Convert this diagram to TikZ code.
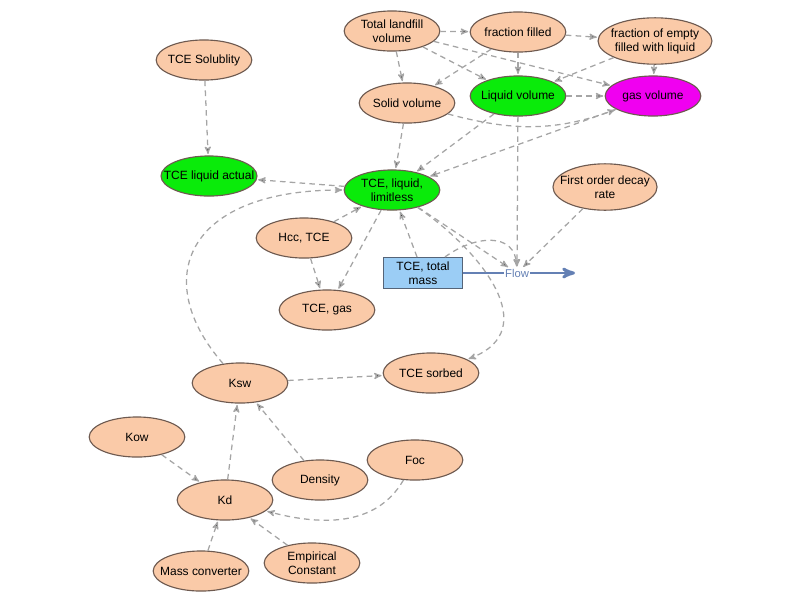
\documentclass[tikz,border=0pt]{standalone}
\usepackage{fontspec}
\setmainfont{Liberation Sans}
\usetikzlibrary{arrows,shapes.geometric}

\definecolor{peach}{RGB}{250,202,168}
\definecolor{rim}{RGB}{110,90,80}
\definecolor{bright}{RGB}{10,235,10}
\definecolor{pink}{RGB}{240,0,240}
\definecolor{stockblue}{RGB}{155,205,245}
\definecolor{stockrim}{RGB}{85,100,120}
\definecolor{linkgrey}{RGB}{165,165,165}
\definecolor{flowblue}{RGB}{100,128,180}

\begin{document}
\begin{tikzpicture}[x=0.025cm, y=-0.025cm, >=stealth', shorten >=1pt,
	font=\fontsize{8.5}{10}\selectfont,
	var/.style={ellipse, draw=rim, fill=peach, line width=0.8pt, align=center,
		minimum width=68pt, minimum height=28.5pt, inner xsep=-8pt, inner ysep=0pt},
	liq/.style={var, fill=bright},
	gasvar/.style={var, fill=pink},
	stock/.style={rectangle, draw=stockrim, fill=stockblue, line width=0.8pt, align=center,
		minimum width=56pt, minimum height=22pt, inner sep=0pt},
	link/.style={->, draw=linkgrey, line width=0.9pt, dash pattern=on 4pt off 3pt}]
	\useasboundingbox (0,0) rectangle (800,600);

	% Nodes, top part
	\node [var]    (tsol) at (204,60)  {TCE Solublity};
	\node [var]    (tlv)  at (392,31)  {Total landfill\\volume};
	\node [var]    (ff)   at (518,32)  {fraction filled};
	\node [var, minimum width=81pt, minimum height=33pt]
	               (fe)   at (655,41)  {fraction of empty\\filled with liquid};
	\node [var]    (sv)   at (407,103) {Solid volume};
	\node [liq]    (lv)   at (518,96)  {Liquid volume};
	\node [gasvar] (gv)   at (653,96)  {gas volume};
	\node [liq]    (tla)  at (209,176) {TCE liquid actual};
	\node [liq]    (tll)  at (392,190) {TCE, liquid,\\limitless};
	\node [var, minimum width=74pt, minimum height=33pt]
	               (fod)  at (605,187) {First order decay\\rate};

	% Nodes, middle part
	\node [var]    (hcc)  at (304,238) {Hcc, TCE};
	\node [stock]  (mass) at (423,273) {TCE, total\\mass};
	\node [text=flowblue, fill=white, inner sep=0.5pt,
		font=\fontsize{8}{9}\selectfont] (flow) at (517,273) {Flow};
	\coordinate    (sink) at (575,273);
	\node [var]    (gas)  at (327,310) {TCE, gas};
	\node [var]    (sorb) at (431,373) {TCE sorbed};

	% Nodes, bottom part
	\node [var]    (ksw)  at (240,383) {Ksw};
	\node [var]    (kow)  at (137,437) {Kow};
	\node [var]    (foc)  at (415,460) {Foc};
	\node [var]    (dens) at (320,480) {Density};
	\node [var]    (kd)   at (225,500) {Kd};
	\node [var]    (mc)   at (201,571) {Mass converter};
	\node [var]    (ec)   at (312,563) {Empirical\\Constant};

	% Flow out of the stock
	\draw [->, flowblue, line width=2pt, shorten >=0pt] (mass) -- (flow) -- (sink);

	% Links for volumes
	\path [link] (tlv) edge (ff);
	\path [link] (ff)  edge (fe);
	\path [link] (tlv) edge (sv);
	\path [link] (tlv) edge (lv);
	\path [link] (tlv) edge (gv);
	\path [link] (ff)  edge (sv);
	\path [link] (ff)  edge (lv);
	\path [link] (fe)  edge (lv);
	\path [link] (fe)  edge (gv);
	\path [link] (lv)  edge (gv);
	\path [link] (sv)  edge [out=-15, in=200] (gv);

	% Links into the liquid
	\path [link] (tsol) edge (tla);
	\path [link] (sv)   edge (tll);
	\path [link] (lv)   edge (tll);
	\path [link] (gv)   edge (tll);
	\path [link] (tll)  edge (tla);
	\path [link] (hcc)  edge (tll);
	\path [link] (hcc)  edge (gas);
	\path [link] (tll)  edge (gas);
	\path [link] (mass) edge (tll);
	\draw [link] (ksw) .. controls (150,280) and (185,190) .. (tll);
	\draw [link] (tll) .. controls (480,250) and (545,330) .. (sorb);

	% Links into the flow
	\path [link] (lv)   edge (flow);
	\path [link] (tll)  edge (flow);
	\path [link] (fod)  edge (flow);
	\draw [link] (mass) .. controls (475,235) and (515,232) .. (flow);

	% Links for sorption
	\path [link] (ksw)  edge (sorb);
	\path [link] (kd)   edge (ksw);
	\path [link] (dens) edge (ksw);
	\path [link] (kow)  edge (kd);
	\path [link] (mc)   edge (kd);
	\path [link] (ec)   edge (kd);
	\path [link] (foc)  edge [out=240, in=-15] (kd);

\end{tikzpicture}
\end{document}
